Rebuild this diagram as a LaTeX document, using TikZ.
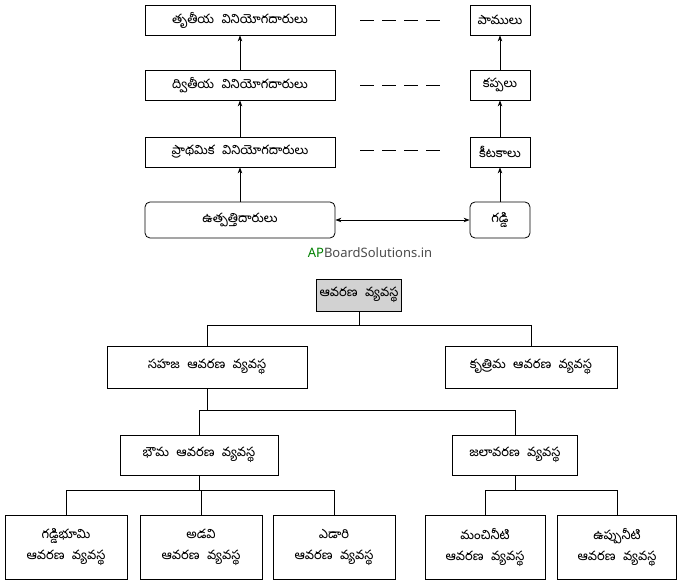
\documentclass[tikz,border=0pt]{standalone}
\usepackage{fontspec}
\setmainfont{Noto Sans Telugu}[Renderer=HarfBuzz,Script=Telugu,WordSpace=2]
\newfontfamily\latn{Noto Sans}
\usetikzlibrary{arrows.meta}
\begin{document}
\begin{tikzpicture}[x=1pt,y=-1pt,
 bx/.style={draw,thick,minimum height=30pt,font=\fontsize{13}{15}\selectfont},
 rb/.style={bx,rounded corners=5pt,minimum height=36pt},
 tb/.style={draw,thick,font=\fontsize{13}{15}\selectfont,align=center},
 ar/.style={-{Stealth[length=6pt]},thick},
 dsh/.style={thick,dash pattern=on 14pt off 8pt}]
\useasboundingbox (0,0) rectangle (686,588);
\node[bx,minimum width=190pt] (t1) at (240,20) {తృతీయ వినియోగదారులు};
\node[bx,minimum width=60pt] (r1) at (500,20) {పాములు};
\node[bx,minimum width=190pt] (t2) at (240,85) {ద్వితీయ వినియోగదారులు};
\node[bx,minimum width=60pt] (r2) at (500,85) {కప్పలు};
\node[bx,minimum width=190pt] (t3) at (240,152) {ప్రాథమిక వినియోగదారులు};
\node[bx,minimum width=60pt] (r3) at (500,152) {కీటకాలు};
\node[rb,minimum width=190pt] (t4) at (240,220) {ఉత్పత్తిదారులు};
\node[rb,minimum width=60pt] (r4) at (500,220) {గడ్డి};
\draw[ar] (t4)--(t3); \draw[ar] (t3)--(t2); \draw[ar] (t2)--(t1);
\draw[ar] (r4)--(r3); \draw[ar] (r3)--(r2); \draw[ar] (r2)--(r1);
\draw[{Stealth[length=6pt]}-{Stealth[length=6pt]},thick] (t4)--(r4);
\foreach \y in {20,85,150}{\draw[dsh] (360,\y)--(448,\y);}
\node[font=\latn\bfseries\fontsize{13}{15}\selectfont,text=green!50!black] (ap) at (370,253) {AP\textcolor{black!70}{BoardSolutions.in}};
\node[tb,fill=gray!35,minimum width=82pt,minimum height=32pt,font=\fontsize{13}{15}\selectfont\bfseries] (root) at (359,295) {ఆవరణ వ్యవస్థ};
\node[tb,minimum width=200pt,minimum height=42pt] (a) at (207,367) {సహజ ఆవరణ వ్యవస్థ};
\node[tb,minimum width=172pt,minimum height=42pt] (b) at (531,367) {కృత్రిమ ఆవరణ వ్యవస్థ};
\node[tb,minimum width=158pt,minimum height=40pt] (c) at (199,455) {భౌమ ఆవరణ వ్యవస్థ};
\node[tb,minimum width=125pt,minimum height=40pt] (d) at (515,455) {జలావరణ వ్యవస్థ};
\node[tb,minimum width=122pt,minimum height=64pt] (e1) at (66,547) {గడ్డిభూమి\\[6pt]ఆవరణ వ్యవస్థ};
\node[tb,minimum width=122pt,minimum height=64pt] (e2) at (201,547) {అడవి\\[6pt]ఆవరణ వ్యవస్థ};
\node[tb,minimum width=122pt,minimum height=64pt] (e3) at (334,547) {ఎడారి\\[6pt]ఆవరణ వ్యవస్థ};
\node[tb,minimum width=120pt,minimum height=64pt] (f1) at (485,547) {మంచినీటి\\[6pt]ఆవరణ వ్యవస్థ};
\node[tb,minimum width=119pt,minimum height=64pt] (f2) at (617,547) {ఉప్పునీటి\\[6pt]ఆవరణ వ్యవస్థ};
\draw (root.south) -- (root.south|-0,325) coordinate (j1);
\draw (a.north|-j1) -- (b.north|-j1);
\draw (a.north|-j1) -- (a.north); \draw (b.north|-j1) -- (b.north);
\draw (a.south) -- (a.south|-0,410) coordinate (j2);
\draw (c.north|-j2) -- (d.north|-j2);
\draw (c.north|-j2) -- (c.north); \draw (d.north|-j2) -- (d.north);
\draw (c.south) -- (c.south|-0,490) coordinate (j3);
\draw (e1.north|-j3) -- (e3.north|-j3);
\foreach \n in {e1,e2,e3}{\draw (\n.north|-j3) -- (\n.north);}
\draw (d.south) -- (d.south|-0,490) coordinate (j4);
\draw (f1.north|-j4) -- (f2.north|-j4);
\foreach \n in {f1,f2}{\draw (\n.north|-j4) -- (\n.north);}
\end{tikzpicture}
\end{document}
